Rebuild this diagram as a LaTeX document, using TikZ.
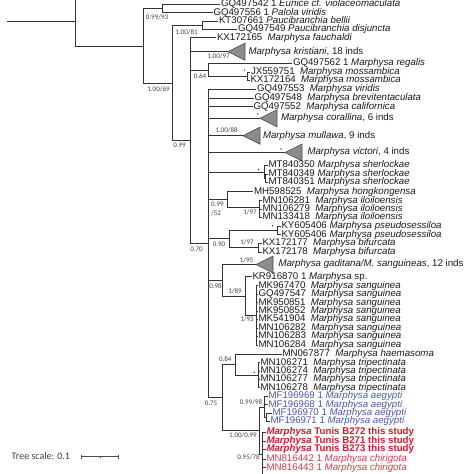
\documentclass[tikz,border=0pt]{standalone}
\usepackage{fontspec}
\setmainfont{Liberation Sans}
\newfontfamily\supf{Carlito}
\definecolor{aeblue}{RGB}{75,88,168}
\definecolor{tunred}{RGB}{214,24,44}
\definecolor{chired}{RGB}{214,58,78}
\newcommand{\lgap}{\hspace{0.55em}}
\begin{document}
\begin{tikzpicture}[x=1pt,y=-1pt,
 br/.style={draw=black!80, line width=0.85pt},
 leaf/.style={anchor=west, inner xsep=0.8pt, inner ysep=0pt, text height=6.2pt, text depth=1.5pt, font=\fontsize{9.7}{10}\selectfont, text=black!90},
 supl/.style={inner sep=0pt, font=\supf\fontsize{7}{8}\selectfont, text=black!75},
 clade/.style={draw=black!70, fill=black!45, line width=0.6pt},
 dotmark/.style={circle, fill=black!85, inner sep=0pt, minimum size=1.5pt},
 blueleaf/.style={leaf, text=aeblue},
 redleaf/.style={leaf, text=tunred},
 chileaf/.style={leaf, text=chired}]
\useasboundingbox (0,0) rectangle (474,474);
\clip (0,0) rectangle (474,474);
% internal nodes
\coordinate (r0) at (7,21);
\coordinate (r) at (75,21);
\coordinate (og) at (250,-4);
\coordinate (n1) at (143,46);
\coordinate (n2) at (162,8.5);
\coordinate (n3) at (172,83);
\coordinate (n4) at (202,25.2);
\coordinate (n5) at (190,140.4);
\coordinate (n6) at (208,70);
\coordinate (m1) at (247.5,76);
\coordinate (n7) at (208,243);
\coordinate (s1) at (264,172);
\coordinate (s2) at (265.5,178);
\coordinate (n8) at (227,199.3);
\coordinate (i1) at (259.5,207);
\coordinate (n9) at (229,238.8);
\coordinate (ps) at (277,230);
\coordinate (bf) at (258,247.5);
\coordinate (n10) at (222.7,280.5);
\coordinate (n12) at (245,296.5);
\coordinate (sg) at (256,315.5);
\coordinate (n11) at (222,397);
\coordinate (n13) at (235,364.7);
\coordinate (tp) at (258.5,375.5);
\coordinate (n14) at (259,430);
\coordinate (ae) at (264,407);
\coordinate (ae2) at (266.5,417);
\coordinate (rd) at (262,454);
\coordinate (rdoff) at (266,480);
% collapsed clades (apex)
\coordinate (tk) at (228,51.7);
\coordinate (tc) at (260,118.3);
\coordinate (tm) at (243,135.7);
\coordinate (tv) at (285,152.5);
\coordinate (tg) at (256,264.5);
\foreach \c in {tk,tc,tm,tv,tg} {\draw[clade] (\c) -- ++(17,-8.5) -- ++(0,17) -- cycle;}
% leaves
\node[leaf] (l1) at (220,4) {GQ497542 1 \textit{Eunice cf. violaceomaculata}};
\node[leaf] (l2) at (212.5,12.7) {GQ497556 1 \textit{Palola viridis}};
\node[leaf] (l3) at (218,21) {KT307661 \textit{Paucibranchia bellii}};
\node[leaf] (l4) at (237,29.3) {GQ497549 \textit{Paucibranchia disjuncta}};
\node[leaf] (l5) at (216,37.7) {KX172165\lgap\textit{Marphysa fauchaldi}};
\node[leaf] (lk) at (247.5,51.7) {\textit{Marphysa kristiani}, 18 inds};
\node[leaf] (l7) at (292,63.3) {GQ497562 1 \textit{Marphysa regalis}};
\node[leaf] (l8) at (250,72) {JX559751\lgap\textit{Marphysa mossambica}};
\node[leaf] (l9) at (249.5,80.3) {KX172164\lgap\textit{Marphysa mossambica}};
\node[leaf] (l10) at (256,89.3) {GQ497553\lgap\textit{Marphysa viridis}};
\node[leaf] (l11) at (253.5,98) {GQ497548\lgap\textit{Marphysa brevitentaculata}};
\node[leaf] (l12) at (252.5,106.7) {GQ497552\lgap\textit{Marphysa californica}};
\node[leaf] (lc) at (280,118.3) {\textit{Marphysa corallina}, 6 inds};
\node[leaf] (lm) at (262,135.7) {\textit{Marphysa mullawa}, 9 inds};
\node[leaf] (lv) at (306.5,152.5) {\textit{Marphysa victori}, 4 inds};
\node[leaf] (l16) at (267.5,165.6) {MT840350 \textit{Marphysa sherlockae}};
\node[leaf] (l17) at (267.5,174.2) {MT840349 \textit{Marphysa sherlockae}};
\node[leaf] (l18) at (267.5,182.6) {MT840351 \textit{Marphysa sherlockae}};
\node[leaf] (l19) at (253,191.7) {MH598525\lgap\textit{Marphysa hongkongensa}};
\node[leaf] (l20) at (261.5,200.7) {MN106281\lgap\textit{Marphysa iloiloensis}};
\node[leaf] (l21) at (261.5,209) {MN106279\lgap\textit{Marphysa iloiloensis}};
\node[leaf] (l22) at (261.5,217.3) {MN133418\lgap\textit{Marphysa iloiloensis}};
\node[leaf] (l23) at (280.5,226) {KY605406 \textit{Marphysa pseudosessiloa}};
\node[leaf] (l24) at (280.5,234.7) {KY605406 \textit{Marphysa pseudosessiloa}};
\node[leaf] (l25) at (261.5,243.3) {KX172177\lgap\textit{Marphysa bifurcata}};
\node[leaf] (l26) at (261.5,252.3) {KX172178\lgap\textit{Marphysa bifurcata}};
\node[leaf] (lg) at (277.5,264.5) {\textit{Marphysa gaditana/M. sanguineas}, 12 inds};
\node[leaf] (l28) at (251.5,276.7) {KR916870 1 \textit{Marphysa} sp.};
\foreach \n/\yy/\acc in {29/285.7/MK967470,30/294.2/GQ497547,31/302.7/MK950851,32/311.1/MK950852,33/319.5/MK541904,34/328/MN106282,35/336.6/MN106283,36/345.2/MN106284}
  {\node[leaf] (l\n) at (257.5,\yy) {\acc\lgap\textit{Marphysa sanguinea}};}
\node[leaf] (l37) at (281.5,354) {MN067877\lgap\textit{Marphysa haemasoma}};
\foreach \n/\yy/\acc in {38/362.7/MN106271,39/371/MN106274,40/379.3/MN106277,41/387.7/MN106278}
  {\node[leaf] (l\n) at (259.5,\yy) {\acc\lgap\textit{Marphysa tripectinata}};}
\node[blueleaf] (l42) at (267.5,396.4) {MF196969 1 \textit{Marphysa aegypti}};
\node[blueleaf] (l43) at (267.5,404.8) {MF196968 1 \textit{Marphysa aegypti}};
\node[blueleaf] (l44) at (271.5,413) {MF196970 1 \textit{Marphysa aegypti}};
\node[blueleaf] (l45) at (269.5,421.3) {MF196971 1 \textit{Marphysa aegypti}};
\node[redleaf] (l46) at (265.5,432.3) {\textbf{\textit{Marphysa} Tunis B272 this study}};
\node[redleaf] (l47) at (265.5,441) {\textbf{\textit{Marphysa} Tunis B271 this study}};
\node[redleaf] (l48) at (265.5,449.6) {\textbf{\textit{Marphysa} Tunis B273 this study}};
\node[chileaf] (l49) at (265.5,459) {MN816442 1 \textit{Marphysa chirigota}};
\node[chileaf] (l50) at (265.5,467.7) {MN816443 1 \textit{Marphysa chirigota}};
% branches
\draw[br] (r0) -- (r);
\draw[br] (r) |- (og);
\draw[br] (r) |- (n1);
\draw[br] (n1) |- (n2);
\draw[br] (n1) |- (n3);
\draw[br] (n2) |- (l1.west);
\draw[br] (n2) |- (l2.west);
\draw[br] (n3) |- (n4);
\draw[br] (n3) |- (n5);
\draw[br] (n4) |- (l3.west);
\draw[br] (n4) |- (l4.west);
\draw[br] (n5) |- (l5.west);
\draw[br] (n5) |- (tk);
\draw[br] (n5) |- (n6);
\draw[br] (n5) |- (n7);
\draw[br] (n6) |- (l7.west);
\draw[br] (n6) |- (m1);
\draw[br] (m1) |- (l8.west);
\draw[br] (m1) |- (l9.west);
\foreach \c in {l10.west,l11.west,l12.west,tc,tm,tv,s1,n8,n9,n10,n11} {\draw[br] (n7) |- (\c);}
\draw[br] (s1) |- (l16.west);
\draw[br] (s1) |- (s2);
\draw[br] (s2) |- (l17.west);
\draw[br] (s2) |- (l18.west);
\draw[br] (n8) |- (l19.west);
\draw[br] (n8) |- (i1);
\foreach \c in {l20,l21,l22} {\draw[br] (i1) |- (\c.west);}
\draw[br] (n9) |- (ps);
\draw[br] (n9) |- (bf);
\draw[br] (ps) |- (l23.west);
\draw[br] (ps) |- (l24.west);
\draw[br] (bf) |- (l25.west);
\draw[br] (bf) |- (l26.west);
\draw[br] (n10) |- (tg);
\draw[br] (n10) |- (n12);
\draw[br] (n12) |- (l28.west);
\draw[br] (n12) |- (sg);
\foreach \c in {l29,l30,l31,l32,l33,l34,l35,l36} {\draw[br] (sg) |- (\c.west);}
\draw[br] (n11) |- (n13);
\draw[br] (n11) |- (n14);
\draw[br] (n13) |- (l37.west);
\draw[br] (n13) |- (tp);
\foreach \c in {l38,l39,l40,l41} {\draw[br] (tp) |- (\c.west);}
\draw[br] (n14) |- (ae);
\draw[br] (n14) |- (rd);
\draw[br] (ae) |- (l42.west);
\draw[br] (ae) |- (l43.west);
\draw[br] (ae) |- (ae2);
\draw[br] (ae2) |- (l44.west);
\draw[br] (ae2) |- (l45.west);
\foreach \c in {l46,l47,l48,l49,l50} {\draw[br] (rd) |- (\c.west);}
\draw[br] (rd) |- (rdoff);
% marks
\foreach \p in {(244.5,70),(257.5,114),(281,149),(258.7,169.5),(272.5,225.5),(254.3,372.3)} {\node[dotmark] at \p {};}
% support values
\node[supl] (s01) at (157,17) {0.99/93};
\node[supl] (s02) at (158.5,89) {1.00/69};
\node[supl] (s03) at (186.5,32) {1.00/81};
\node[supl] (s04) at (218.5,56.7) {1.00/97};
\node[supl] (s05) at (200,76) {0.64};
\node[supl] (s06) at (179.5,145.7) {0.99};
\node[supl] (s07) at (226.5,130.7) {1.00/88};
\node[supl,anchor=west] (s08) at (211,204.3) {0.99};
\node[supl,anchor=west] (s09) at (211,213.3) {/52};
\node[supl] (s10) at (250,212) {1/97};
\node[supl] (s11) at (219,244) {0.90};
\node[supl] (s12) at (196.5,249) {0.70};
\node[supl] (s13) at (247,242.7) {1/97};
\node[supl] (s14) at (246.5,260.7) {1/95};
\node[supl] (s15) at (215.5,285.7) {0.98};
\node[supl] (s16) at (235,291.7) {1/89};
\node[supl] (s17) at (247,319.3) {1/93};
\node[supl] (s18) at (225.3,359) {0.84};
\node[supl] (s19) at (211,403) {0.75};
\node[supl] (s20) at (251,402.3) {0.99/98};
\node[supl] (s21) at (243,435) {1.00/0.99};
\node[supl] (s22) at (248.5,457.3) {0.95/78};
% scale bar
\node[anchor=west, inner sep=0pt, font=\supf\fontsize{10}{11}\selectfont, text=black!75] (ts) at (11.5,456) {Tree scale: 0.1};
\coordinate (sb1) at (81.7,456.7);
\coordinate (sb2) at (118.3,456.7);
\coordinate (sbm) at (100,456.7);
\draw[draw=black!70, line width=0.6pt] (sb1) -- (sb2);
\draw[draw=black!70, line width=0.6pt] (sb1) ++(0,-1.8) -- ++(0,3.6);
\draw[draw=black!70, line width=0.6pt] (sb2) ++(0,-1.8) -- ++(0,3.6);
\draw[draw=black!70, line width=0.5pt] (sbm) ++(0,-1) -- ++(0,2);
\end{tikzpicture}
\end{document}
